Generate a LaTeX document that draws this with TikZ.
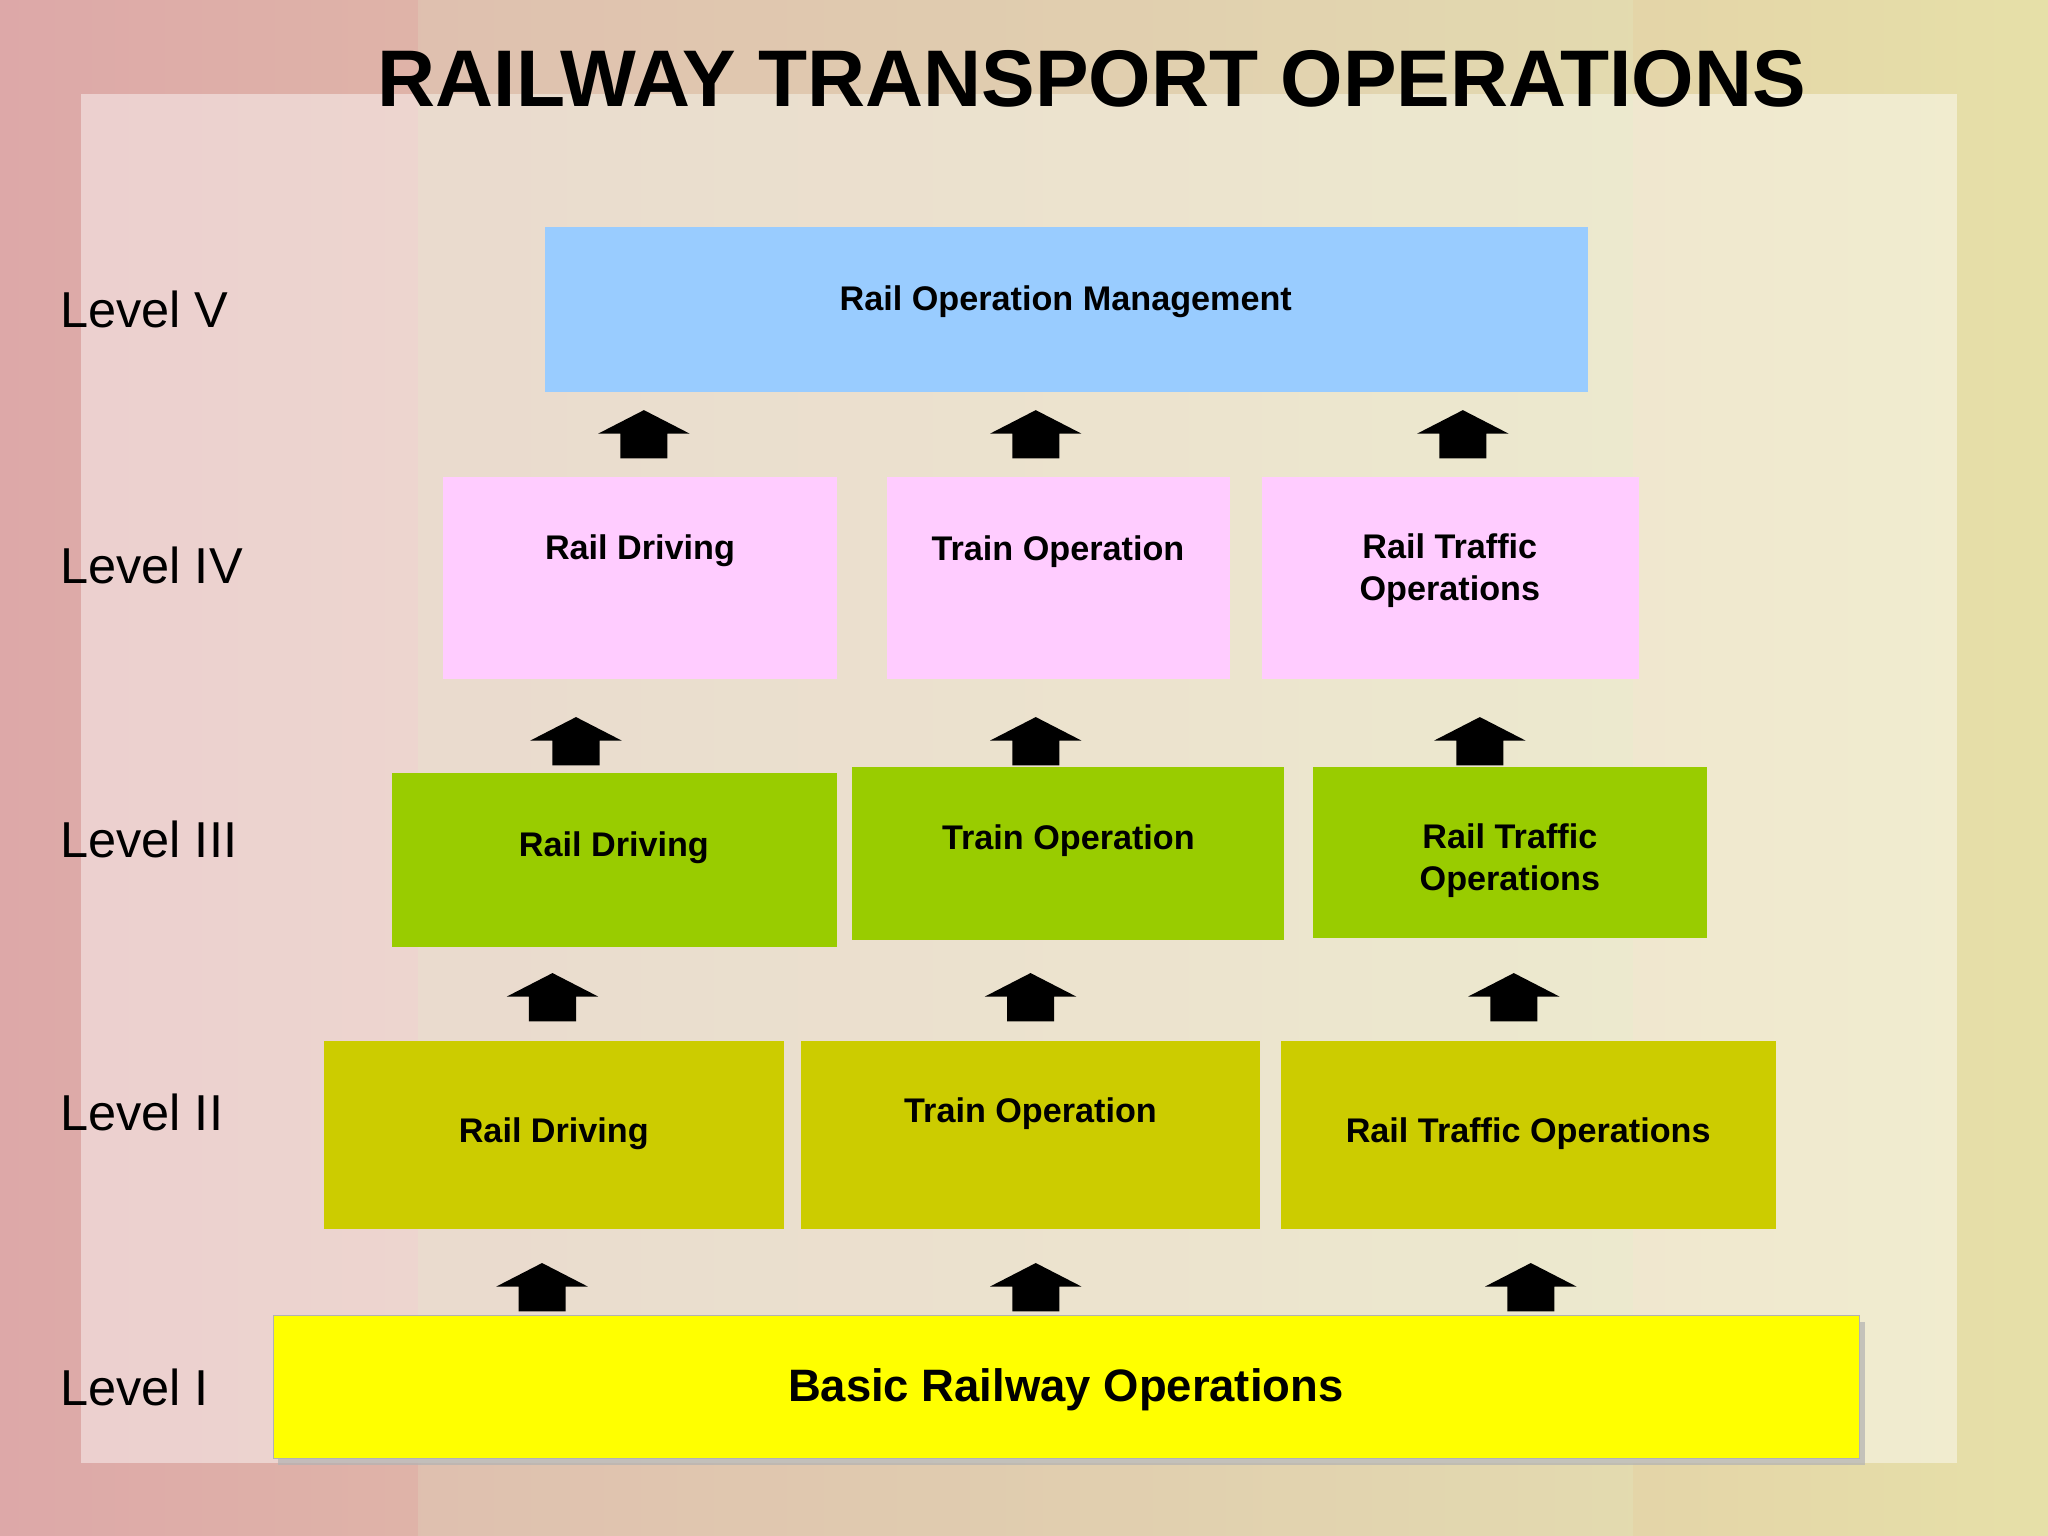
\documentclass[tikz,border=0pt]{standalone}
\usepackage{fontspec}
\setmainfont{Liberation Sans}
\definecolor{cblue}{HTML}{99CCFF}
\definecolor{cpink}{HTML}{FFCCFF}
\definecolor{cgreen}{HTML}{99CC00}
\definecolor{colive}{HTML}{CCCC00}
\definecolor{cyel}{HTML}{FFFF00}
\definecolor{bgl}{HTML}{DDA8A8}
\definecolor{bgm}{HTML}{D8D0A8}
\definecolor{bgr}{HTML}{E6E0A8}
\begin{document}
\begin{tikzpicture}[x=0.02cm,y=-0.02cm,
  box/.style={draw=none,fill=#1},
  lbl/.style={font=\fontsize{14.9}{18}\selectfont\bfseries,align=center},
  lev/.style={anchor=west,font=\fontsize{22}{26}\selectfont},
  uparrow/.style={fill=black}]
\useasboundingbox (0,0) rectangle (1568,1176);
\shade[left color=bgl, middle color=bgm, right color=bgr] (0,0) rectangle (1568,1176);
\fill[white,opacity=0.45] (62,72) rectangle (1498,1120);
\fill[yellow!40!green!20!white,opacity=0.2] (320,0) rectangle (1250,1176);
\node[font=\fontsize{35}{40}\selectfont\bfseries] (title) at (836,60) {RAILWAY TRANSPORT OPERATIONS};
% levels
\node[lev] (l5) at (40,237) {Level V};
\node[lev] (l4) at (40,433) {Level IV};
\node[lev] (l3) at (40,643) {Level III};
\node[lev] (l2) at (40,852) {Level II};
\node[lev] (l1) at (40,1062) {Level I};
% boxes
\fill[box=cblue] (417,174) rectangle (1216,300);
\node[lbl] (v) at (816,231) {Rail Operation Management};
\fill[box=cpink] (339,365) rectangle (641,520);
\fill[box=cpink] (679,365) rectangle (942,520);
\fill[box=cpink] (966,365) rectangle (1255,520);
\node[lbl] (iva) at (490,422) {Rail Driving};
\node[lbl] (ivb) at (810,422) {Train Operation};
\node[lbl] (ivc) at (1110,437) {Rail Traffic\\Operations};
\fill[box=cgreen] (300,592) rectangle (641,725);
\fill[box=cgreen] (652,587) rectangle (983,720);
\fill[box=cgreen] (1005,587) rectangle (1307,718);
\node[lbl] (iiia) at (470,649) {Rail Driving};
\node[lbl] (iiib) at (818,644) {Train Operation};
\node[lbl] (iiic) at (1156,659) {Rail Traffic\\Operations};
\fill[box=colive] (248,797) rectangle (600,941);
\fill[box=colive] (613,797) rectangle (965,941);
\fill[box=colive] (981,797) rectangle (1360,941);
\node[lbl] (iia) at (424,868) {Rail Driving};
\node[lbl] (iib) at (789,853) {Train Operation};
\node[lbl] (iic) at (1170,868) {Rail Traffic Operations};
\fill[black!30,opacity=0.7] (213,1012) rectangle (1428,1122);
\fill[box=cyel,draw=black!30] (209,1007) rectangle (1424,1117);
\node[font=\fontsize{19.8}{24}\selectfont\bfseries] (i) at (816,1064) {Basic Railway Operations};
% arrows
\foreach \x/\y in {493/314,793/314,1120/314,441/549,793/549,1133/549,423/745,789/745,1159/745,415/967,793/967,1172/967}{
  \fill[uparrow] (\x,\y) -- (\x+35,\y+18) -- (\x+18,\y+18) -- (\x+18,\y+37) -- (\x-18,\y+37) -- (\x-18,\y+18) -- (\x-35,\y+18) -- cycle;
}
\end{tikzpicture}
\end{document}
